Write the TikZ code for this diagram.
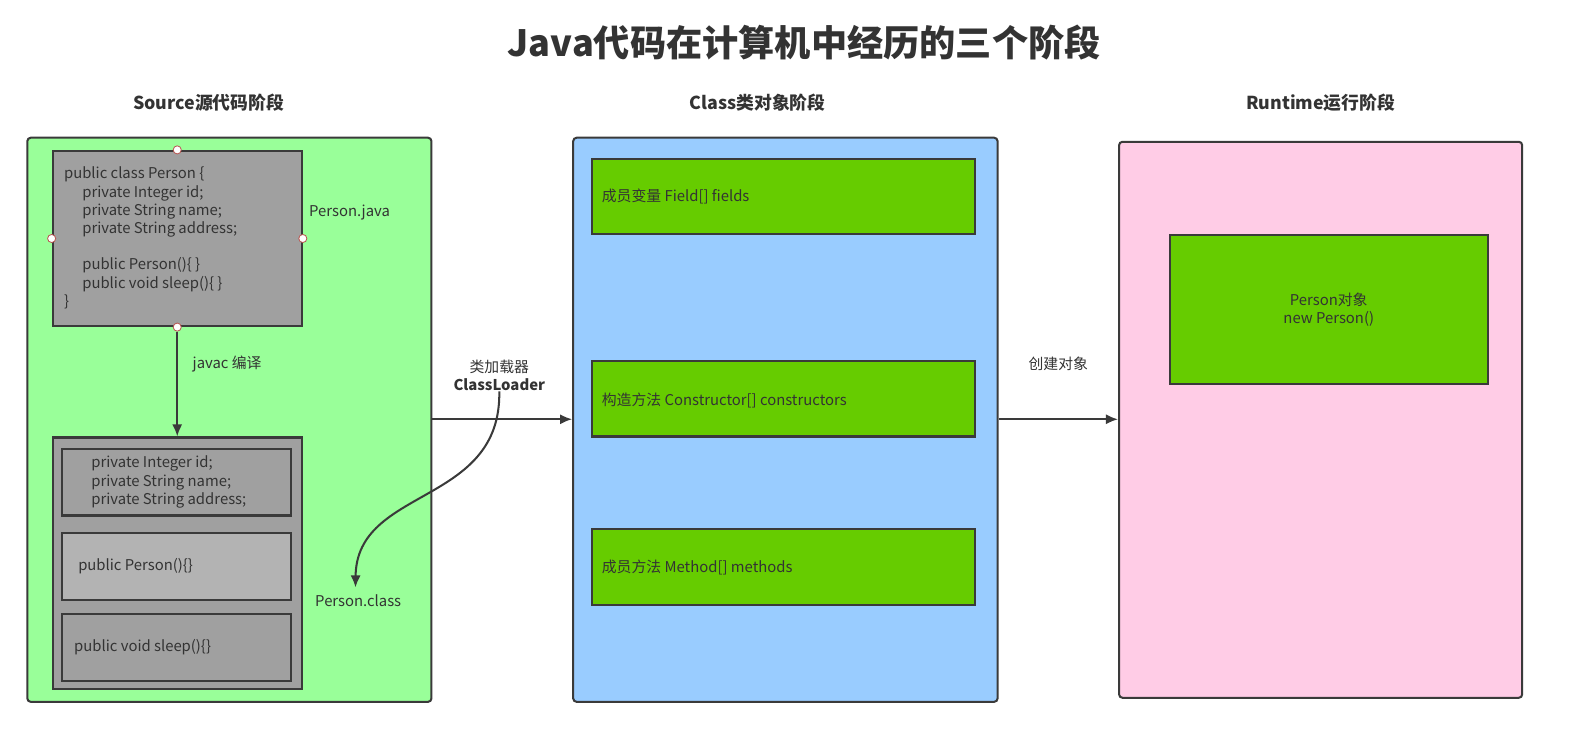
\documentclass[tikz,border=0pt]{standalone}
\usepackage{fontspec}
\setmainfont{Noto Sans CJK SC}
\usetikzlibrary{arrows.meta,positioning,fit}
\definecolor{srcgreen}{HTML}{99FF99}
\definecolor{clsblue}{HTML}{99CCFF}
\definecolor{rtpink}{HTML}{FFCCE6}
\definecolor{boxgray}{HTML}{A0A0A0}
\definecolor{lightgray}{HTML}{B3B3B3}
\definecolor{membergreen}{HTML}{66CC00}
\definecolor{linegray}{HTML}{3A3A3A}
\definecolor{textgray}{HTML}{333333}
\definecolor{portred}{HTML}{B85450}
\begin{document}
\begin{tikzpicture}[x=0.75pt,y=-0.75pt,>={Latex[length=9pt,width=7.5pt]},
  panel/.style={draw=linegray,line width=1.5pt,rounded corners=2.5pt,inner sep=0pt},
  box/.style={draw=linegray,line width=1.5pt,inner sep=0pt},
  port/.style={circle,draw=portred,fill=white,line width=0.6pt,inner sep=0pt,minimum size=6pt},
  txt/.style={font=\fontsize{11}{13.5}\selectfont,text=textgray,inner sep=0pt,align=left},
  head/.style={font=\fontsize{13.2}{16}\selectfont\bfseries,text=textgray},
  link/.style={->,draw=linegray,line width=1.5pt}]
\useasboundingbox (0,0) rectangle (1568,730);

% titles
\node[font=\fontsize{26.8}{31}\selectfont\bfseries,text=textgray] (title) at (794,42) {Java代码在计算机中经历的三个阶段};
\node[head] (h1) at (206,101) {Source源代码阶段};
\node[head] (h2) at (748,101) {Class类对象阶段};
\node[head] (h3) at (1304,101) {Runtime运行阶段};

% three stages
\node[panel,fill=srcgreen,fit={(27,136)(426,693)}] (src) {};
\node[panel,fill=clsblue,fit={(566,136)(985,693)}] (cls) {};
\node[panel,fill=rtpink,fit={(1105,140)(1503,689)}] (rt) {};

% source stage
\node[box,fill=boxgray,fit={(52,149)(298,322)}] (java) {};
\node[txt,anchor=west] (javacode) at (63,235) {public class Person \{\\
\hspace*{13.5pt}private Integer id;\\
\hspace*{13.5pt}private String name;\\
\hspace*{13.5pt}private String address;\\
\mbox{}\\
\hspace*{13.5pt}public Person()\{ \}\\
\hspace*{13.5pt}public void sleep()\{ \}\\
\}};
\foreach \a in {north,south,east,west}
  \node[port] (port-\a) at (java.\a) {};
\node[txt,anchor=west] (javaname) at (305,210) {Person.java};

\node[box,fill=boxgray,fit={(52,432)(298,680)}] (classfile) {};
\node[box,fill=boxgray,fit={(61,443)(287,509)}] (fields) {};
\node[txt,anchor=west] at (90,476) {private Integer id;\\private String name;\\private String address;};
\node[box,fill=lightgray,fit={(61,526)(287,592)}] (ctor) {};
\node[txt,anchor=west] at (77,559) {public Person()\{\}};
\node[box,fill=boxgray,fit={(61,606)(287,672)}] (method) {};
\node[txt,anchor=west] at (73,639) {public void sleep()\{\}};
\node[txt,anchor=west] (classname) at (311,593) {Person.class};

\draw[link] (port-south) -- (classfile.north);
\node[txt,anchor=west] (javac) at (190,359) {javac 编译};

% class stage
\node[box,fill=membergreen,fit={(585,157)(963,231)}] (fieldarr) {};
\node[txt,anchor=west] at (594,194) {成员变量 Field[] fields};
\node[box,fill=membergreen,fit={(585,356)(963,431)}] (ctorarr) {};
\node[txt,anchor=west] at (594,395) {构造方法 Constructor[] constructors};
\node[box,fill=membergreen,fit={(585,522)(963,597)}] (methodarr) {};
\node[txt,anchor=west] at (594,560) {成员方法 Method[] methods};

% runtime stage
\node[box,fill=membergreen,fit={(1155,232)(1469,379)}] (obj) {};
\node[txt,align=center] at (obj) {Person对象\\new Person()};

% connectors
\node[txt,align=center] (loader) at (493,371) {类加载器\\\textbf{ClassLoader}};
\draw[link] (src.east |- 0,414) -- (cls.west |- 0,414);
\draw[link] (loader.south) .. controls (495,500) and (352,480) .. ([yshift=5pt]classname.north -| 351,0);
\node[txt] (create) at (1045,359) {创建对象};
\draw[link] (cls.east |- 0,414) -- (rt.west |- 0,414);
\end{tikzpicture}
\end{document}
